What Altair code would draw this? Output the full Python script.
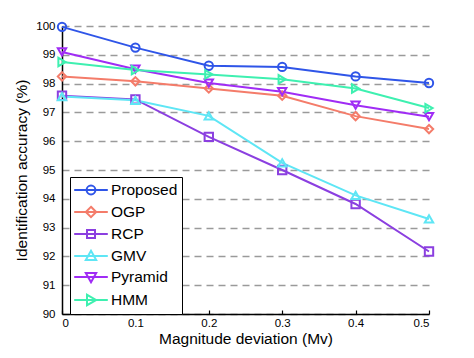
import altair as alt
import pandas as pd

deviation = [0.0, 0.1, 0.2, 0.3, 0.4, 0.5]
series_names = ["Proposed", "OGP", "RCP", "GMV", "Pyramid", "HMM"]
proposed = [99.97, 99.25, 98.62, 98.58, 98.25, 98.02]
ogp = [98.25, 98.08, 97.83, 97.58, 96.87, 96.42]
rcp = [97.58, 97.45, 96.15, 95.0, 93.82, 92.17]
gmv = [97.55, 97.42, 96.88, 95.25, 94.12, 93.3]
pyramid = [99.1, 98.5, 98.02, 97.72, 97.25, 96.85]
hmm = [98.75, 98.47, 98.32, 98.15, 97.83, 97.15]
y_ticks = [90, 91, 92, 93, 94, 95, 96, 97, 98, 99, 100]
x_ticks = [0, 0.1, 0.2, 0.3, 0.4, 0.5]

colors = ["#2f55e8", "#f47c6a", "#8b3fe0", "#5ee6f5", "#a02cf5", "#3ef0b0"]
shapes = ["circle", "diamond", "square", "triangle-up", "triangle-down", "triangle-right"]

# legend glyphs: a line segment with the marker at its middle (unit = 8 px)
line = "M-1.1,0 H3.1 "
legend_paths = [
    line + "M0.45,0 A0.55,0.55 0 1,0 1.55,0 A0.55,0.55 0 1,0 0.45,0 Z",
    line + "M1,-0.65 L1.65,0 L1,0.65 L0.35,0 Z",
    line + "M0.5,-0.5 H1.5 V0.5 H0.5 Z",
    line + "M1,-0.65 L1.65,0.5 L0.35,0.5 Z",
    line + "M1,0.65 L1.65,-0.5 L0.35,-0.5 Z",
    line + "M1.65,0 L0.5,-0.65 L0.5,0.65 Z",
]

values = [proposed, ogp, rcp, gmv, pyramid, hmm]
rows = []
for name, vals in zip(series_names, values):
    for d, v in zip(deviation, vals):
        rows.append({"dev": d, "acc": v, "series": name})
df = pd.DataFrame(rows)

x_enc = alt.X("dev:Q", scale=alt.Scale(domain=[0, 0.5], nice=False),
              axis=alt.Axis(values=x_ticks, format="~g", title="Magnitude deviation (Mv)",
                            grid=False, tickSize=alt.ExprRef(expr="-4"), tickColor="black", tickWidth=1.2,
                            labelPadding=7, titlePadding=3))
y_enc = alt.Y("acc:Q", scale=alt.Scale(domain=[90, 100], nice=False),
              axis=alt.Axis(values=y_ticks, title="Identification accuracy (%)",
                            tickSize=0, labelPadding=7, titlePadding=6,
                            gridDash=[7, 5], gridColor="#9a9a9a", gridWidth=1.5))

color_main = alt.Color("series:N", scale=alt.Scale(domain=series_names, range=colors), legend=None)
shape_main = alt.Shape("series:N", scale=alt.Scale(domain=series_names, range=shapes), legend=None)

base = alt.Chart(df)
lines = base.mark_line(strokeWidth=2).encode(x=x_enc, y=y_enc, color=color_main, detail="series:N")
points = base.mark_point(filled=False, size=70, strokeWidth=2, opacity=1).encode(
    x=x_enc, y=y_enc, color=color_main, shape=shape_main)
main = alt.layer(lines, points)

legend_layer = base.transform_filter("false").mark_point(filled=False, strokeWidth=2, opacity=1).encode(
    x=x_enc, y=y_enc,
    color=alt.Color("series:N", scale=alt.Scale(domain=series_names, range=colors),
                    legend=alt.Legend(title=None)),
    shape=alt.Shape("series:N", scale=alt.Scale(domain=series_names, range=legend_paths),
                    legend=alt.Legend(title=None)),
)

chart = alt.layer(main, legend_layer).resolve_scale(
    color="independent", shape="independent"
).properties(
    width=367, height=288,
    autosize=alt.AutoSizeParams(type="none"),
    padding={"left": 54, "top": 18, "right": 37, "bottom": 36},
).configure_view(stroke=None).configure_axis(
    labelFont="Liberation Sans", titleFont="Liberation Sans",
    labelFontSize=11.5, titleFontSize=15.5, labelColor="black", titleColor="black",
    titleFontWeight="normal", domainColor="black", domainWidth=1.5,
).configure_legend(
    orient="none", legendX=8, legendY=151,
    labelFont="Liberation Sans", labelFontSize=15.5, labelColor="black",
    symbolSize=256, symbolStrokeWidth=2, labelOffset=19,
    strokeColor="black", fillColor="white", padding=4, rowPadding=3,
)

chart.save("out.html", embed_options={"renderer": "svg", "actions": False})
